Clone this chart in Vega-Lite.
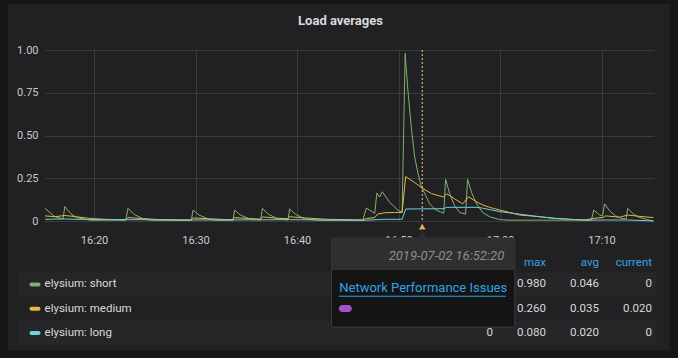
{
  "$schema": "https://vega.github.io/schema/vega-lite/v6.json",
  "width": 609,
  "height": 171,
  "autosize": "none",
  "padding": {"left": 45, "top": 50, "right": 24, "bottom": 137},
  "background": "#212124",
  "title": {"text": "Load averages", "font": "Roboto", "fontSize": 13, "fontWeight": "bold", "color": "#d8d9da", "anchor": "middle", "frame": "group", "dx": -9, "offset": -32},
  "config": {"view": {"stroke": null}, "font": "Roboto"},
  "datasets": {
    "load": [
      {"series": "elysium: short", "time": "2019-07-02T16:15:10", "value": 0.074},
      {"series": "elysium: short", "time": "2019-07-02T16:16:08", "value": 0.025},
      {"series": "elysium: short", "time": "2019-07-02T16:16:57", "value": 0.012},
      {"series": "elysium: short", "time": "2019-07-02T16:17:07", "value": 0.084},
      {"series": "elysium: short", "time": "2019-07-02T16:17:40", "value": 0.045},
      {"series": "elysium: short", "time": "2019-07-02T16:18:16", "value": 0.02},
      {"series": "elysium: short", "time": "2019-07-02T16:19:35", "value": 0.005},
      {"series": "elysium: short", "time": "2019-07-02T16:23:07", "value": 0.005},
      {"series": "elysium: short", "time": "2019-07-02T16:23:21", "value": 0.074},
      {"series": "elysium: short", "time": "2019-07-02T16:23:55", "value": 0.04},
      {"series": "elysium: short", "time": "2019-07-02T16:24:50", "value": 0.012},
      {"series": "elysium: short", "time": "2019-07-02T16:25:40", "value": 0.004},
      {"series": "elysium: short", "time": "2019-07-02T16:29:35", "value": 0.004},
      {"series": "elysium: short", "time": "2019-07-02T16:29:45", "value": 0.064},
      {"series": "elysium: short", "time": "2019-07-02T16:30:20", "value": 0.035},
      {"series": "elysium: short", "time": "2019-07-02T16:31:15", "value": 0.012},
      {"series": "elysium: short", "time": "2019-07-02T16:32:00", "value": 0.004},
      {"series": "elysium: short", "time": "2019-07-02T16:33:41", "value": 0.004},
      {"series": "elysium: short", "time": "2019-07-02T16:33:51", "value": 0.064},
      {"series": "elysium: short", "time": "2019-07-02T16:34:25", "value": 0.035},
      {"series": "elysium: short", "time": "2019-07-02T16:35:20", "value": 0.012},
      {"series": "elysium: short", "time": "2019-07-02T16:36:25", "value": 0.006},
      {"series": "elysium: short", "time": "2019-07-02T16:36:35", "value": 0.074},
      {"series": "elysium: short", "time": "2019-07-02T16:37:10", "value": 0.04},
      {"series": "elysium: short", "time": "2019-07-02T16:38:05", "value": 0.012},
      {"series": "elysium: short", "time": "2019-07-02T16:39:06", "value": 0.006},
      {"series": "elysium: short", "time": "2019-07-02T16:39:16", "value": 0.07},
      {"series": "elysium: short", "time": "2019-07-02T16:39:50", "value": 0.04},
      {"series": "elysium: short", "time": "2019-07-02T16:40:45", "value": 0.012},
      {"series": "elysium: short", "time": "2019-07-02T16:42:00", "value": 0.004},
      {"series": "elysium: short", "time": "2019-07-02T16:46:28", "value": 0.004},
      {"series": "elysium: short", "time": "2019-07-02T16:46:50", "value": 0.076},
      {"series": "elysium: short", "time": "2019-07-02T16:47:39", "value": 0.045},
      {"series": "elysium: short", "time": "2019-07-02T16:47:52", "value": 0.164},
      {"series": "elysium: short", "time": "2019-07-02T16:48:08", "value": 0.14},
      {"series": "elysium: short", "time": "2019-07-02T16:48:24", "value": 0.171},
      {"series": "elysium: short", "time": "2019-07-02T16:49:07", "value": 0.11},
      {"series": "elysium: short", "time": "2019-07-02T16:49:56", "value": 0.064},
      {"series": "elysium: short", "time": "2019-07-02T16:50:21", "value": 0.05},
      {"series": "elysium: short", "time": "2019-07-02T16:50:39", "value": 0.98},
      {"series": "elysium: short", "time": "2019-07-02T16:50:55", "value": 0.766},
      {"series": "elysium: short", "time": "2019-07-02T16:51:15", "value": 0.55},
      {"series": "elysium: short", "time": "2019-07-02T16:51:35", "value": 0.376},
      {"series": "elysium: short", "time": "2019-07-02T16:51:55", "value": 0.279},
      {"series": "elysium: short", "time": "2019-07-02T16:52:15", "value": 0.2},
      {"series": "elysium: short", "time": "2019-07-02T16:52:40", "value": 0.15},
      {"series": "elysium: short", "time": "2019-07-02T16:53:04", "value": 0.1},
      {"series": "elysium: short", "time": "2019-07-02T16:53:39", "value": 0.065},
      {"series": "elysium: short", "time": "2019-07-02T16:54:27", "value": 0.045},
      {"series": "elysium: short", "time": "2019-07-02T16:54:38", "value": 0.244},
      {"series": "elysium: short", "time": "2019-07-02T16:55:02", "value": 0.16},
      {"series": "elysium: short", "time": "2019-07-02T16:55:31", "value": 0.09},
      {"series": "elysium: short", "time": "2019-07-02T16:56:01", "value": 0.05},
      {"series": "elysium: short", "time": "2019-07-02T16:56:36", "value": 0.04},
      {"series": "elysium: short", "time": "2019-07-02T16:56:48", "value": 0.244},
      {"series": "elysium: short", "time": "2019-07-02T16:57:12", "value": 0.165},
      {"series": "elysium: short", "time": "2019-07-02T16:57:41", "value": 0.1},
      {"series": "elysium: short", "time": "2019-07-02T16:58:17", "value": 0.05},
      {"series": "elysium: short", "time": "2019-07-02T16:58:58", "value": 0.025},
      {"series": "elysium: short", "time": "2019-07-02T16:59:57", "value": 0.008},
      {"series": "elysium: short", "time": "2019-07-02T17:00:56", "value": 0.005},
      {"series": "elysium: short", "time": "2019-07-02T17:09:00", "value": 0.005},
      {"series": "elysium: short", "time": "2019-07-02T17:09:14", "value": 0.064},
      {"series": "elysium: short", "time": "2019-07-02T17:09:48", "value": 0.035},
      {"series": "elysium: short", "time": "2019-07-02T17:10:06", "value": 0.03},
      {"series": "elysium: short", "time": "2019-07-02T17:10:18", "value": 0.1},
      {"series": "elysium: short", "time": "2019-07-02T17:10:47", "value": 0.06},
      {"series": "elysium: short", "time": "2019-07-02T17:11:23", "value": 0.03},
      {"series": "elysium: short", "time": "2019-07-02T17:11:58", "value": 0.015},
      {"series": "elysium: short", "time": "2019-07-02T17:12:25", "value": 0.012},
      {"series": "elysium: short", "time": "2019-07-02T17:12:35", "value": 0.074},
      {"series": "elysium: short", "time": "2019-07-02T17:13:09", "value": 0.04},
      {"series": "elysium: short", "time": "2019-07-02T17:13:45", "value": 0.02},
      {"series": "elysium: short", "time": "2019-07-02T17:14:32", "value": 0.008},
      {"series": "elysium: short", "time": "2019-07-02T17:15:07", "value": 0},
      {"series": "elysium: medium", "time": "2019-07-02T16:15:10", "value": 0.03},
      {"series": "elysium: medium", "time": "2019-07-02T16:16:08", "value": 0.025},
      {"series": "elysium: medium", "time": "2019-07-02T16:17:07", "value": 0.032},
      {"series": "elysium: medium", "time": "2019-07-02T16:18:16", "value": 0.025},
      {"series": "elysium: medium", "time": "2019-07-02T16:19:35", "value": 0.015},
      {"series": "elysium: medium", "time": "2019-07-02T16:21:00", "value": 0.01},
      {"series": "elysium: medium", "time": "2019-07-02T16:23:07", "value": 0.007},
      {"series": "elysium: medium", "time": "2019-07-02T16:23:21", "value": 0.02},
      {"series": "elysium: medium", "time": "2019-07-02T16:24:50", "value": 0.014},
      {"series": "elysium: medium", "time": "2019-07-02T16:26:30", "value": 0.008},
      {"series": "elysium: medium", "time": "2019-07-02T16:29:35", "value": 0.005},
      {"series": "elysium: medium", "time": "2019-07-02T16:29:45", "value": 0.018},
      {"series": "elysium: medium", "time": "2019-07-02T16:31:15", "value": 0.013},
      {"series": "elysium: medium", "time": "2019-07-02T16:33:41", "value": 0.007},
      {"series": "elysium: medium", "time": "2019-07-02T16:33:51", "value": 0.02},
      {"series": "elysium: medium", "time": "2019-07-02T16:35:20", "value": 0.014},
      {"series": "elysium: medium", "time": "2019-07-02T16:36:25", "value": 0.011},
      {"series": "elysium: medium", "time": "2019-07-02T16:36:35", "value": 0.024},
      {"series": "elysium: medium", "time": "2019-07-02T16:38:05", "value": 0.016},
      {"series": "elysium: medium", "time": "2019-07-02T16:39:06", "value": 0.013},
      {"series": "elysium: medium", "time": "2019-07-02T16:39:16", "value": 0.025},
      {"series": "elysium: medium", "time": "2019-07-02T16:40:45", "value": 0.018},
      {"series": "elysium: medium", "time": "2019-07-02T16:43:00", "value": 0.01},
      {"series": "elysium: medium", "time": "2019-07-02T16:46:28", "value": 0.006},
      {"series": "elysium: medium", "time": "2019-07-02T16:46:52", "value": 0.015},
      {"series": "elysium: medium", "time": "2019-07-02T16:47:39", "value": 0.02},
      {"series": "elysium: medium", "time": "2019-07-02T16:47:56", "value": 0.04},
      {"series": "elysium: medium", "time": "2019-07-02T16:48:37", "value": 0.048},
      {"series": "elysium: medium", "time": "2019-07-02T16:49:36", "value": 0.05},
      {"series": "elysium: medium", "time": "2019-07-02T16:50:21", "value": 0.05},
      {"series": "elysium: medium", "time": "2019-07-02T16:50:42", "value": 0.26},
      {"series": "elysium: medium", "time": "2019-07-02T16:51:35", "value": 0.225},
      {"series": "elysium: medium", "time": "2019-07-02T16:52:24", "value": 0.19},
      {"series": "elysium: medium", "time": "2019-07-02T16:53:15", "value": 0.16},
      {"series": "elysium: medium", "time": "2019-07-02T16:54:27", "value": 0.14},
      {"series": "elysium: medium", "time": "2019-07-02T16:54:44", "value": 0.16},
      {"series": "elysium: medium", "time": "2019-07-02T16:55:31", "value": 0.13},
      {"series": "elysium: medium", "time": "2019-07-02T16:56:19", "value": 0.1},
      {"series": "elysium: medium", "time": "2019-07-02T16:56:54", "value": 0.142},
      {"series": "elysium: medium", "time": "2019-07-02T16:57:35", "value": 0.115},
      {"series": "elysium: medium", "time": "2019-07-02T16:58:17", "value": 0.094},
      {"series": "elysium: medium", "time": "2019-07-02T16:58:58", "value": 0.08},
      {"series": "elysium: medium", "time": "2019-07-02T16:59:57", "value": 0.064},
      {"series": "elysium: medium", "time": "2019-07-02T17:00:56", "value": 0.05},
      {"series": "elysium: medium", "time": "2019-07-02T17:01:56", "value": 0.035},
      {"series": "elysium: medium", "time": "2019-07-02T17:02:55", "value": 0.03},
      {"series": "elysium: medium", "time": "2019-07-02T17:03:54", "value": 0.025},
      {"series": "elysium: medium", "time": "2019-07-02T17:05:22", "value": 0.016},
      {"series": "elysium: medium", "time": "2019-07-02T17:06:51", "value": 0.01},
      {"series": "elysium: medium", "time": "2019-07-02T17:08:20", "value": 0.006},
      {"series": "elysium: medium", "time": "2019-07-02T17:09:13", "value": 0.015},
      {"series": "elysium: medium", "time": "2019-07-02T17:10:12", "value": 0.022},
      {"series": "elysium: medium", "time": "2019-07-02T17:10:24", "value": 0.03},
      {"series": "elysium: medium", "time": "2019-07-02T17:11:47", "value": 0.022},
      {"series": "elysium: medium", "time": "2019-07-02T17:12:34", "value": 0.035},
      {"series": "elysium: medium", "time": "2019-07-02T17:13:45", "value": 0.027},
      {"series": "elysium: medium", "time": "2019-07-02T17:15:07", "value": 0.02},
      {"series": "elysium: long", "time": "2019-07-02T16:15:10", "value": 0.01},
      {"series": "elysium: long", "time": "2019-07-02T16:17:07", "value": 0.012},
      {"series": "elysium: long", "time": "2019-07-02T16:19:35", "value": 0.008},
      {"series": "elysium: long", "time": "2019-07-02T16:23:21", "value": 0.008},
      {"series": "elysium: long", "time": "2019-07-02T16:29:45", "value": 0.006},
      {"series": "elysium: long", "time": "2019-07-02T16:36:35", "value": 0.007},
      {"series": "elysium: long", "time": "2019-07-02T16:39:16", "value": 0.008},
      {"series": "elysium: long", "time": "2019-07-02T16:46:28", "value": 0.004},
      {"series": "elysium: long", "time": "2019-07-02T16:48:37", "value": 0.01},
      {"series": "elysium: long", "time": "2019-07-02T16:50:21", "value": 0.01},
      {"series": "elysium: long", "time": "2019-07-02T16:50:42", "value": 0.07},
      {"series": "elysium: long", "time": "2019-07-02T16:54:27", "value": 0.072},
      {"series": "elysium: long", "time": "2019-07-02T16:54:44", "value": 0.08},
      {"series": "elysium: long", "time": "2019-07-02T16:57:41", "value": 0.08},
      {"series": "elysium: long", "time": "2019-07-02T16:58:17", "value": 0.075},
      {"series": "elysium: long", "time": "2019-07-02T16:59:57", "value": 0.055},
      {"series": "elysium: long", "time": "2019-07-02T17:01:56", "value": 0.04},
      {"series": "elysium: long", "time": "2019-07-02T17:03:54", "value": 0.025},
      {"series": "elysium: long", "time": "2019-07-02T17:05:22", "value": 0.015},
      {"series": "elysium: long", "time": "2019-07-02T17:06:51", "value": 0.01},
      {"series": "elysium: long", "time": "2019-07-02T17:08:20", "value": 0.005},
      {"series": "elysium: long", "time": "2019-07-02T17:10:24", "value": 0.006},
      {"series": "elysium: long", "time": "2019-07-02T17:12:34", "value": 0.006},
      {"series": "elysium: long", "time": "2019-07-02T17:15:07", "value": 0}
    ],
    "legend": [
      {"series": "elysium: short", "min": 0, "max": 0.98, "avg": 0.046, "current": 0},
      {"series": "elysium: medium", "min": 0, "max": 0.26, "avg": 0.035, "current": 0.02},
      {"series": "elysium: long", "min": 0, "max": 0.08, "avg": 0.02, "current": 0}
    ],
    "annotations": [
      {"time": "2019-07-02T16:52:20", "text": "Network Performance Issues"}
    ]
  },
  "layer": [
    {
      "data": {"values": [{}]},
      "mark": {"type": "rect", "fill": "transparent", "stroke": "#161719", "strokeWidth": 8},
      "encoding": {
        "x": {"datum": {"year": 2019, "month": 7, "date": 2, "hours": 16, "minutes": 11, "seconds": 8}, "type": "temporal", "scale": {"domain": [{"year": 2019, "month": 7, "date": 2, "hours": 16, "minutes": 15, "seconds": 10}, {"year": 2019, "month": 7, "date": 2, "hours": 17, "minutes": 15, "seconds": 10}]}, "axis": null},
        "x2": {"datum": {"year": 2019, "month": 7, "date": 2, "hours": 17, "minutes": 17, "seconds": 7}},
        "y": {"datum": 1.2924, "type": "quantitative", "scale": {"domain": [0, 1]}, "axis": null},
        "y2": {"datum": -0.7778}
      }
    },
    {
      "data": {"name": "load"},
      "mark": {"type": "line", "strokeWidth": 1, "interpolate": "linear"},
      "encoding": {
        "x": {
          "field": "time", "type": "temporal",
          "scale": {"domain": [{"year": 2019, "month": 7, "date": 2, "hours": 16, "minutes": 15, "seconds": 10}, {"year": 2019, "month": 7, "date": 2, "hours": 17, "minutes": 15, "seconds": 10}]},
          "axis": {
            "title": null, "format": "%H:%M",
            "values": [
              {"year": 2019, "month": 7, "date": 2, "hours": 16, "minutes": 20},
              {"year": 2019, "month": 7, "date": 2, "hours": 16, "minutes": 30},
              {"year": 2019, "month": 7, "date": 2, "hours": 16, "minutes": 40},
              {"year": 2019, "month": 7, "date": 2, "hours": 16, "minutes": 50},
              {"year": 2019, "month": 7, "date": 2, "hours": 17, "minutes": 0},
              {"year": 2019, "month": 7, "date": 2, "hours": 17, "minutes": 10}
            ],
            "domain": false, "ticks": false, "tickSize": 0, "labelPadding": 13,
            "labelFont": "Roboto", "labelFontSize": 11, "labelColor": "#c8c9ca",
            "grid": true, "gridColor": "#3b3b3e", "gridWidth": 1, "labelFlush": false
          }
        },
        "y": {
          "field": "value", "type": "quantitative",
          "scale": {"domain": [0, 1]},
          "axis": {
            "title": null, "values": [0, 0.25, 0.5, 0.75, 1],
            "labelExpr": "datum.value == 0 ? '0' : format(datum.value, '.2f')",
            "domain": false, "ticks": false, "tickSize": 0, "labelPadding": 7,
            "labelFont": "Roboto", "labelFontSize": 11, "labelColor": "#c8c9ca",
            "grid": true, "gridColor": "#3b3b3e", "gridWidth": 1
          }
        },
        "color": {
          "field": "series", "type": "nominal",
          "scale": {"domain": ["elysium: short", "elysium: medium", "elysium: long"], "range": ["#7eb26d", "#eab839", "#6ed0e0"]},
          "legend": null
        }
      }
    },
    {
      "data": {"name": "annotations"},
      "mark": {"type": "rule", "color": "#ecd17a", "strokeDash": [2, 2], "strokeWidth": 1},
      "encoding": {
        "x": {"field": "time", "type": "temporal", "scale": {"domain": [{"year": 2019, "month": 7, "date": 2, "hours": 16, "minutes": 15, "seconds": 10}, {"year": 2019, "month": 7, "date": 2, "hours": 17, "minutes": 15, "seconds": 10}]}, "axis": null}
      }
    },
    {
      "data": {"name": "legend"},
      "transform": [{"filter": "datum.series != 'elysium: medium'"}],
      "mark": {"type": "rect", "color": "#262628"},
      "encoding": {
        "x": {"datum": {"year": 2019, "month": 7, "date": 2, "hours": 16, "minutes": 12, "seconds": 30}, "type": "temporal", "scale": {"domain": [{"year": 2019, "month": 7, "date": 2, "hours": 16, "minutes": 15, "seconds": 10}, {"year": 2019, "month": 7, "date": 2, "hours": 17, "minutes": 15, "seconds": 10}]}, "axis": null},
        "x2": {"datum": {"year": 2019, "month": 7, "date": 2, "hours": 17, "minutes": 15, "seconds": 26}},
        "y": {"field": "series", "type": "nominal", "scale": {"type": "band", "domain": ["header", "elysium: short", "elysium: medium", "elysium: long"], "range": [198, 295], "paddingInner": 0, "paddingOuter": 0}, "axis": null}
      }
    },
    {
      "data": {"name": "legend"},
      "mark": {"type": "point", "shape": "M-1,0L1,0", "size": 49, "filled": false, "strokeWidth": 4, "strokeCap": "round", "opacity": 1},
      "encoding": {
        "x": {"datum": "dash", "type": "nominal", "scale": {"type": "point", "domain": ["dash", "name"], "range": [-10, -0.4], "padding": 0}, "axis": null},
        "y": {"field": "series", "type": "nominal", "scale": {"type": "band", "domain": ["header", "elysium: short", "elysium: medium", "elysium: long"], "range": [198, 295], "paddingInner": 0, "paddingOuter": 0}, "axis": null},
        "color": {"field": "series", "type": "nominal", "scale": {"domain": ["elysium: short", "elysium: medium", "elysium: long"], "range": ["#7eb26d", "#eab839", "#6ed0e0"]}, "legend": null}
      }
    },
    {
      "data": {"name": "legend"},
      "mark": {"type": "text", "align": "left", "baseline": "middle", "font": "Roboto", "fontSize": 11.5, "color": "#d8d9da"},
      "encoding": {
        "x": {"datum": "name", "type": "nominal", "scale": {"type": "point", "domain": ["dash", "name"], "range": [-10, -0.4], "padding": 0}, "axis": null},
        "y": {"field": "series", "type": "nominal", "scale": {"type": "band", "domain": ["header", "elysium: short", "elysium: medium", "elysium: long"], "range": [198, 295], "paddingInner": 0, "paddingOuter": 0}, "axis": null},
        "text": {"field": "series"}
      }
    },
    {
      "data": {"name": "legend"},
      "transform": [
        {"fold": ["min", "max", "avg", "current"], "as": ["stat", "val"]},
        {"filter": "datum.stat != 'min' || datum.series == 'elysium: long'"},
        {"calculate": "datum.val == 0 ? '0' : format(datum.val, '.3f')", "as": "label"}
      ],
      "mark": {"type": "text", "align": "right", "baseline": "middle", "font": "Roboto", "fontSize": 11.5, "color": "#d8d9da"},
      "encoding": {
        "x": {"field": "stat", "type": "nominal", "scale": {"type": "point", "domain": ["min", "max", "avg", "current"], "range": [448, 607], "padding": 0}, "axis": null},
        "y": {"field": "series", "type": "nominal", "scale": {"type": "band", "domain": ["header", "elysium: short", "elysium: medium", "elysium: long"], "range": [198, 295], "paddingInner": 0, "paddingOuter": 0}, "axis": null},
        "text": {"field": "label"}
      }
    },
    {
      "data": {"values": [{"stat": "max"}, {"stat": "avg"}, {"stat": "current"}]},
      "mark": {"type": "text", "align": "right", "baseline": "middle", "font": "Roboto", "fontSize": 11.5, "color": "#33a2e5", "dy": 3},
      "encoding": {
        "x": {"field": "stat", "type": "nominal", "scale": {"type": "point", "domain": ["min", "max", "avg", "current"], "range": [448, 607], "padding": 0}, "axis": null},
        "y": {"datum": "header", "type": "nominal", "scale": {"type": "band", "domain": ["header", "elysium: short", "elysium: medium", "elysium: long"], "range": [198, 295], "paddingInner": 0, "paddingOuter": 0}, "axis": null},
        "text": {"field": "stat"}
      }
    },
    {
      "data": {"name": "annotations"},
      "mark": {"type": "rect", "fill": "#141415", "stroke": "#3c3c3f", "strokeWidth": 1, "cornerRadius": 2},
      "encoding": {
        "x": {"datum": {"year": 2019, "month": 7, "date": 2, "hours": 16, "minutes": 43, "seconds": 24}, "type": "temporal", "scale": {"domain": [{"year": 2019, "month": 7, "date": 2, "hours": 16, "minutes": 15, "seconds": 10}, {"year": 2019, "month": 7, "date": 2, "hours": 17, "minutes": 15, "seconds": 10}]}, "axis": null},
        "x2": {"datum": {"year": 2019, "month": 7, "date": 2, "hours": 17, "minutes": 1, "seconds": 27}},
        "y": {"datum": -0.1, "type": "quantitative", "scale": {"domain": [0, 1]}, "axis": null},
        "y2": {"datum": -0.62}
      }
    },
    {
      "data": {"name": "annotations"},
      "mark": {"type": "rect", "fill": "#2f2f32"},
      "encoding": {
        "x": {"datum": {"year": 2019, "month": 7, "date": 2, "hours": 16, "minutes": 43, "seconds": 25}, "type": "temporal", "scale": {"domain": [{"year": 2019, "month": 7, "date": 2, "hours": 16, "minutes": 15, "seconds": 10}, {"year": 2019, "month": 7, "date": 2, "hours": 17, "minutes": 15, "seconds": 10}]}, "axis": null},
        "x2": {"datum": {"year": 2019, "month": 7, "date": 2, "hours": 17, "minutes": 1, "seconds": 26}},
        "y": {"datum": -0.103, "type": "quantitative", "scale": {"domain": [0, 1]}, "axis": null},
        "y2": {"datum": -0.287}
      }
    },
    {
      "data": {"name": "annotations"},
      "mark": {"type": "point", "shape": "triangle-up", "size": 70, "filled": true, "color": "#2f2f32", "opacity": 1},
      "encoding": {
        "x": {"field": "time", "type": "temporal", "scale": {"domain": [{"year": 2019, "month": 7, "date": 2, "hours": 16, "minutes": 15, "seconds": 10}, {"year": 2019, "month": 7, "date": 2, "hours": 17, "minutes": 15, "seconds": 10}]}, "axis": null},
        "y": {"datum": -0.08, "type": "quantitative", "scale": {"domain": [0, 1]}, "axis": null}
      }
    },
    {
      "data": {"name": "annotations"},
      "mark": {"type": "point", "shape": "triangle-up", "size": 45, "filled": true, "color": "#dcae55", "opacity": 1},
      "encoding": {
        "x": {"field": "time", "type": "temporal", "scale": {"domain": [{"year": 2019, "month": 7, "date": 2, "hours": 16, "minutes": 15, "seconds": 10}, {"year": 2019, "month": 7, "date": 2, "hours": 17, "minutes": 15, "seconds": 10}]}, "axis": null},
        "y": {"datum": -0.033, "type": "quantitative", "scale": {"domain": [0, 1]}, "axis": null}
      }
    },
    {
      "data": {"name": "annotations"},
      "mark": {"type": "text", "align": "right", "baseline": "middle", "dx": 82, "font": "Roboto", "fontSize": 13, "fontStyle": "italic", "color": "#8e8e8e"},
      "encoding": {
        "x": {"field": "time", "type": "temporal", "scale": {"domain": [{"year": 2019, "month": 7, "date": 2, "hours": 16, "minutes": 15, "seconds": 10}, {"year": 2019, "month": 7, "date": 2, "hours": 17, "minutes": 15, "seconds": 10}]}, "axis": null},
        "y": {"datum": -0.205, "type": "quantitative", "scale": {"domain": [0, 1]}, "axis": null},
        "text": {"field": "time", "type": "temporal", "format": "%Y-%m-%d %H:%M:%S"}
      }
    },
    {
      "data": {"name": "annotations"},
      "mark": {"type": "text", "align": "left", "baseline": "middle", "dx": -83, "font": "Roboto", "fontSize": 13, "color": "#33a2e5"},
      "encoding": {
        "x": {"field": "time", "type": "temporal", "scale": {"domain": [{"year": 2019, "month": 7, "date": 2, "hours": 16, "minutes": 15, "seconds": 10}, {"year": 2019, "month": 7, "date": 2, "hours": 17, "minutes": 15, "seconds": 10}]}, "axis": null},
        "y": {"datum": -0.392, "type": "quantitative", "scale": {"domain": [0, 1]}, "axis": null},
        "text": {"field": "text"}
      }
    },
    {
      "data": {"name": "annotations"},
      "mark": {"type": "rule", "color": "#33a2e5", "strokeWidth": 1},
      "encoding": {
        "x": {"datum": {"year": 2019, "month": 7, "date": 2, "hours": 16, "minutes": 44, "seconds": 7}, "type": "temporal", "scale": {"domain": [{"year": 2019, "month": 7, "date": 2, "hours": 16, "minutes": 15, "seconds": 10}, {"year": 2019, "month": 7, "date": 2, "hours": 17, "minutes": 15, "seconds": 10}]}, "axis": null},
        "x2": {"datum": {"year": 2019, "month": 7, "date": 2, "hours": 17, "minutes": 0, "seconds": 34}},
        "y": {"datum": -0.44, "type": "quantitative", "scale": {"domain": [0, 1]}, "axis": null}
      }
    },
    {
      "data": {"name": "annotations"},
      "mark": {"type": "rect", "fill": "#a352cc", "cornerRadius": 3.5},
      "encoding": {
        "x": {"datum": {"year": 2019, "month": 7, "date": 2, "hours": 16, "minutes": 44, "seconds": 7}, "type": "temporal", "scale": {"domain": [{"year": 2019, "month": 7, "date": 2, "hours": 16, "minutes": 15, "seconds": 10}, {"year": 2019, "month": 7, "date": 2, "hours": 17, "minutes": 15, "seconds": 10}]}, "axis": null},
        "x2": {"datum": {"year": 2019, "month": 7, "date": 2, "hours": 16, "minutes": 45, "seconds": 24}},
        "y": {"datum": -0.491, "type": "quantitative", "scale": {"domain": [0, 1]}, "axis": null},
        "y2": {"datum": -0.532}
      }
    }
  ],
  "resolve": {"scale": {"x": "independent", "y": "independent"}}
}
